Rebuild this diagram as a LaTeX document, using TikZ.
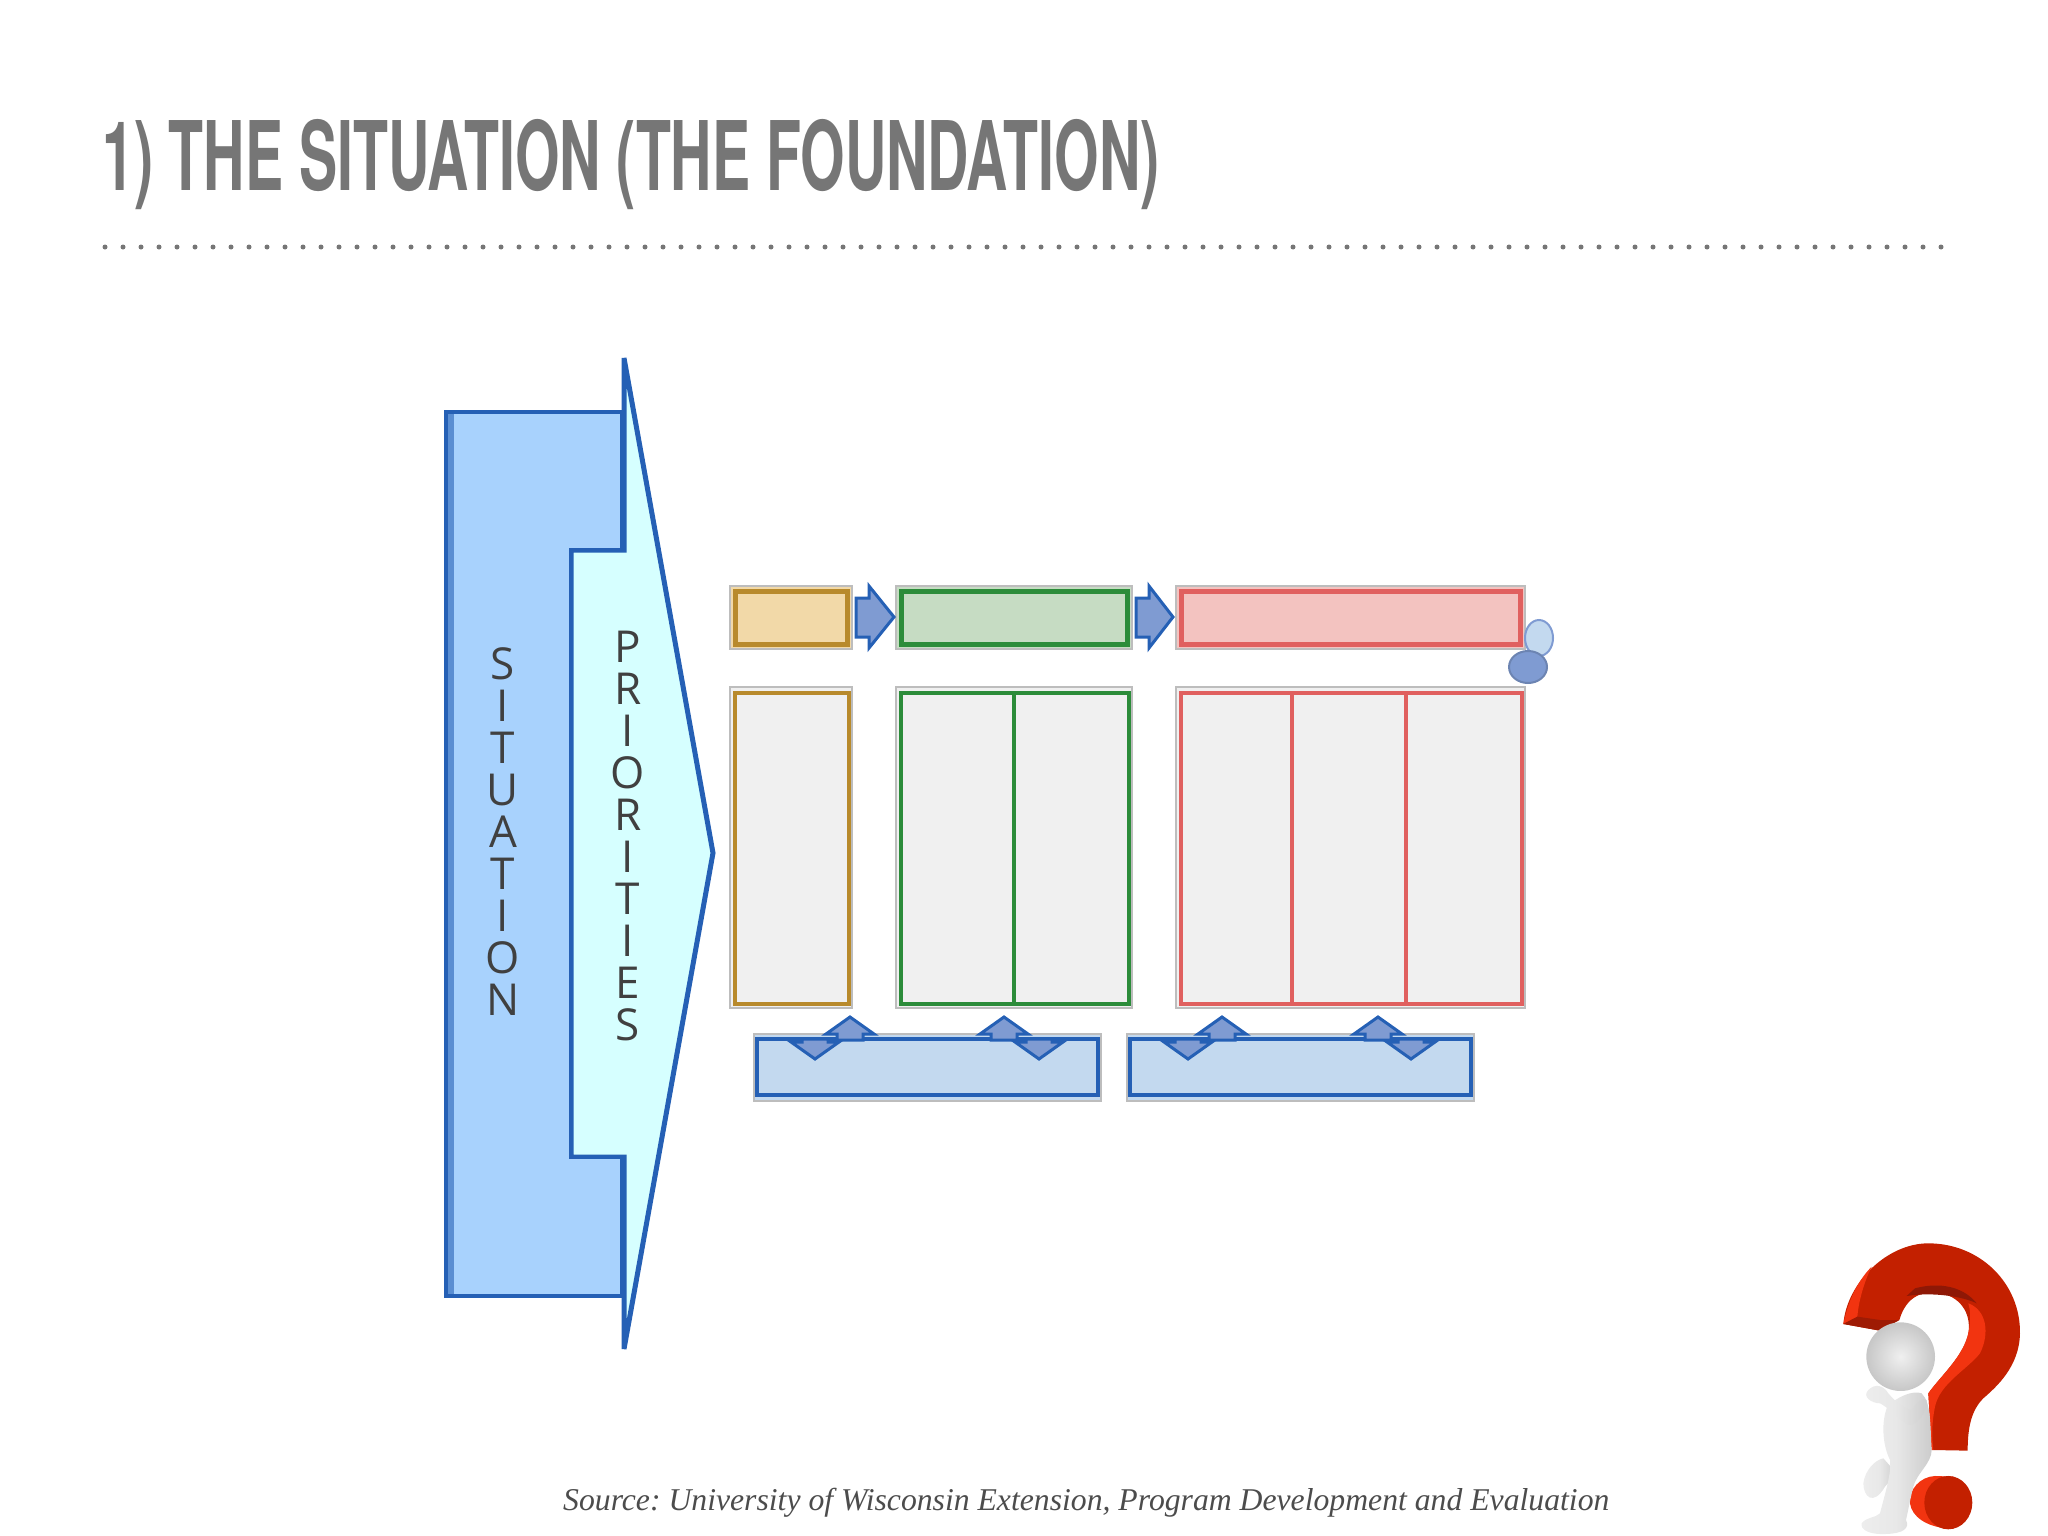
\documentclass[tikz,border=0pt]{standalone}
\usepackage{fontspec}
\usetikzlibrary{shapes.geometric}
\setmainfont{Liberation Serif}
\newfontfamily\titlefont[FakeStretch=0.596]{TeX Gyre Heros}
\newfontfamily\stackfont{Open Sans}
\frenchspacing
\definecolor{titlegray}{HTML}{767676}
\definecolor{edgegray}{HTML}{BDBDBD}
\definecolor{situfill}{HTML}{A8D2FD}
\definecolor{prifill}{HTML}{D6FFFF}
\definecolor{frameblue}{HTML}{2560B5}
\definecolor{arrowblue}{HTML}{7F9BD2}
\definecolor{paleblue}{HTML}{C3D9EF}
\definecolor{tanline}{HTML}{B88A2C}
\definecolor{tanfill}{HTML}{F2D9A8}
\definecolor{greenline}{HTML}{2C8C3A}
\definecolor{greenfill}{HTML}{C6DCC3}
\definecolor{redline}{HTML}{E0605F}
\definecolor{redfill}{HTML}{F3C3C0}
\definecolor{cellfill}{HTML}{F0F0F0}
\definecolor{markred}{HTML}{C32000}
\definecolor{markbright}{HTML}{F23410}
\definecolor{markdark}{HTML}{8E1806}
\tikzset{
  panel/.style={draw=edgegray,line width=1.5pt,inner sep=0pt,outer sep=0pt,anchor=north west},
  letters/.style={font=\stackfont\fontsize{44}{42}\selectfont,align=center,text=black!75,inner sep=0pt},
  blockarrow/.style={draw=frameblue,line width=3pt,fill=arrowblue,line join=miter},
  figpart/.style={draw=none,left color=black!7,right color=black!20,middle color=black!9},
}
\begin{document}
\begin{tikzpicture}[x=1pt,y=-1pt]
  \useasboundingbox (0,0) rectangle (2048,1536);
  % heading
  \node[anchor=base west,inner sep=0pt,text=titlegray,font=\titlefont\bfseries\fontsize{96}{96}\selectfont] (title) at (102,190) {1) THE SITUATION (THE FOUNDATION)};
  \coordinate (ruleL) at (105,247);
  \coordinate (ruleR) at (1948,247);
  \draw[titlegray,line width=5pt,line cap=round,dash pattern=on 0pt off 18pt] (ruleL) -- (ruleR);
  % situation and priorities
  \draw[frameblue,line width=5pt,fill=prifill,line join=miter]
    (624,358) -- (713,853) -- (624,1349) -- (624,1157) -- (571,1157) -- (571,550) -- (624,550) -- cycle;
  \draw[frameblue,line width=3.5pt,fill=situfill]
    (622,412) -- (446,412) -- (446,1296) -- (622,1296) -- (622,1157) -- (571,1157) -- (571,550) -- (622,550) -- cycle;
  \draw[frameblue!60!situfill,line width=6pt] (450.5,414) -- (450.5,1294);
  \node[letters] (situation) at (503,832) {S\\I\\T\\U\\A\\T\\I\\O\\N};
  \node[letters] (priorities) at (628,836) {P\\R\\I\\O\\R\\I\\T\\I\\E\\S};
  % top row
  \node[panel,fill=tanfill,minimum width=122pt,minimum height=63pt] (tanhead) at (730,586) {};
  \node[panel,fill=greenfill,minimum width=236pt,minimum height=63pt] (greenhead) at (896,586) {};
  \node[panel,fill=redfill,minimum width=349pt,minimum height=63pt] (redhead) at (1176,586) {};
  \draw[tanline,line width=5pt] ([shift={(5,5)}]tanhead.north west) rectangle ([shift={(-5,-5)}]tanhead.south east);
  \draw[greenline,line width=5pt] ([shift={(5,5)}]greenhead.north west) rectangle ([shift={(-5,-5)}]greenhead.south east);
  \draw[redline,line width=5pt] ([shift={(5,5)}]redhead.north west) rectangle ([shift={(-5,-5)}]redhead.south east);
  \draw[blockarrow] (856,598) -- (869,598) -- (869,586) -- (894,617) -- (869,648) -- (869,637) -- (856,637) -- cycle;
  \draw[blockarrow] (1136,598) -- (1149,598) -- (1149,586) -- (1173,617) -- (1149,648) -- (1149,637) -- (1136,637) -- cycle;
  % loop near the red box
  \node[draw=arrowblue,line width=2pt,fill=paleblue,ellipse,minimum width=28pt,minimum height=36pt,inner sep=0pt] (loopA) at (1539,638) {};
  \node[draw=arrowblue!85!black,line width=2pt,fill=arrowblue,ellipse,minimum width=38pt,minimum height=32pt,inner sep=0pt] (loopB) at (1528,667) {};
  % columns
  \node[panel,fill=cellfill,minimum width=122pt,minimum height=321pt] (tancol) at (730,687) {};
  \node[panel,fill=cellfill,minimum width=236pt,minimum height=321pt] (greencol) at (896,687) {};
  \node[panel,fill=cellfill,minimum width=349pt,minimum height=321pt] (redcol) at (1176,687) {};
  \draw[tanline,line width=3.5pt] ([shift={(5,6)}]tancol.north west) rectangle ([shift={(-3,-4)}]tancol.south east);
  \draw[greenline,line width=3.5pt] ([shift={(5,6)}]greencol.north west) rectangle ([shift={(-3,-4)}]greencol.south east);
  \draw[redline,line width=3.5pt] ([shift={(5,6)}]redcol.north west) rectangle ([shift={(-3,-4)}]redcol.south east);
  \draw[greenline,line width=4pt] (1014,692) -- (1014,1004);
  \draw[redline,line width=3.5pt] (1292,692) -- (1292,1004);
  \draw[redline,line width=3.5pt] (1406,692) -- (1406,1004);
  % bottom boxes
  \node[panel,fill=paleblue,minimum width=347pt,minimum height=67pt] (baseA) at (754,1034) {};
  \node[panel,fill=paleblue,minimum width=347pt,minimum height=67pt] (baseB) at (1127,1034) {};
  \draw[frameblue,line width=4pt] ([shift={(3,5)}]baseA.north west) rectangle ([shift={(-3,-6)}]baseA.south east);
  \draw[frameblue,line width=4pt] ([shift={(3,5)}]baseB.north west) rectangle ([shift={(-3,-6)}]baseB.south east);
  \foreach \px in {850,1004,1222,1378} {
    \draw[blockarrow] (\px-13,1040) -- (\px-13,1034) -- (\px-24,1034) -- (\px,1017) -- (\px+24,1034) -- (\px+13,1034) -- (\px+13,1040) -- cycle;
  }
  \foreach \px in {815,1039,1188,1411} {
    \draw[blockarrow] (\px-13,1039) -- (\px-13,1042) -- (\px-24,1042) -- (\px,1059) -- (\px+24,1042) -- (\px+13,1042) -- (\px+13,1039) -- cycle;
  }
  % source line
  \node[anchor=base west,inner sep=0pt,text=black!70,font=\itshape\fontsize{31.7}{32}\selectfont] (source) at (563,1510) {Source: University of Wisconsin Extension, Program Development and Evaluation};
  % thinking figure
  \begin{scope}[shift={(1800,1220)},x=0.3333pt,y=-0.3333pt]
    \fill[markred] (130,312) .. controls (140,190) and (260,70) .. (385,70)
      .. controls (540,70) and (662,190) .. (660,340)
      .. controls (658,440) and (590,500) .. (550,535)
      .. controls (515,570) and (503,620) .. (503,692) -- (395,690) -- (385,520)
      .. controls (420,470) and (490,410) .. (505,340)
      .. controls (515,280) and (480,225) .. (410,218)
      .. controls (370,215) and (320,225) .. (298,300) -- (240,332) -- cycle;
    \fill[markbright] (505,250) .. controls (560,270) and (570,340) .. (540,400)
      .. controls (500,450) and (420,490) .. (405,560)
      .. controls (395,610) and (395,650) .. (400,690) -- (395,690) -- (385,520)
      .. controls (420,470) and (490,410) .. (505,340)
      .. controls (515,290) and (510,270) .. (505,250) -- cycle;
    \fill[markdark] (345,205) .. controls (420,185) and (490,200) .. (530,250)
      .. controls (490,230) and (400,215) .. (320,228) -- cycle;
    \fill[markbright] (130,312) .. controls (145,240) and (175,180) .. (215,140)
      .. controls (190,190) and (175,250) .. (172,290) -- cycle;
    \fill[markdark!70!markred] (130,312) -- (172,290) -- (240,300) -- (298,300) -- (240,332) -- cycle;
    \fill[markbright] (405,768) .. controls (360,770) and (325,810) .. (330,850)
      .. controls (335,890) and (380,920) .. (440,925) -- (460,770) -- cycle;
    \fill[markred] (445,848) ellipse [x radius=72,y radius=80];
    % figure
    \shade[figpart] (255,800) .. controls (220,860) and (190,830) .. (190,790)
      .. controls (195,750) and (225,720) .. (250,715) -- (290,760) -- cycle;
    \shade[figpart] (262,560) .. controls (290,530) and (340,510) .. (365,520)
      .. controls (395,550) and (390,620) .. (395,690)
      .. controls (395,730) and (350,760) .. (340,800)
      .. controls (330,840) and (325,870) .. (318,900)
      .. controls (330,925) and (310,940) .. (260,942)
      .. controls (210,945) and (180,930) .. (185,910)
      .. controls (200,890) and (225,895) .. (240,880)
      .. controls (255,820) and (275,760) .. (270,720)
      .. controls (245,670) and (245,600) .. (262,560) -- cycle;
    \shade[figpart] (205,510) .. controls (225,490) and (250,495) .. (265,520)
      .. controls (290,550) and (320,570) .. (335,570)
      .. controls (350,550) and (365,530) .. (380,540)
      .. controls (385,570) and (350,620) .. (325,615)
      .. controls (290,590) and (260,560) .. (240,550)
      .. controls (215,550) and (185,530) .. (205,510) -- cycle;
    \shade[inner color=black!6,outer color=black!22] (302,410) circle [radius=103];
  \end{scope}
\end{tikzpicture}
\end{document}
